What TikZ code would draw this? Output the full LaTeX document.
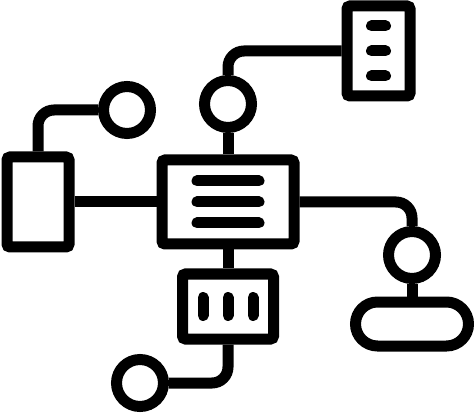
\documentclass[tikz,border=0pt]{standalone}
\usepackage{tikz}
\usetikzlibrary{positioning}
\tikzset{
  box/.style={draw, rectangle, rounded corners=3pt, inner sep=0pt},
  port/.style={draw, circle, minimum size=47pt, inner sep=0pt},
  bar/.style={line cap=round},
}
\begin{document}
\begin{tikzpicture}[x=1pt, y=-1pt, line width=11pt]
      \useasboundingbox (0,0) rectangle (474,414);
      \node[box, minimum width=132pt, minimum height=84pt] (hub) at (228,202) {};
      \node[box, minimum width=62pt, minimum height=90pt] (leftbox) at (38,202) {};
      \node[box, minimum width=63pt, minimum height=90pt] (topbox) at (378.5,51) {};
      \node[box, minimum width=91pt, minimum height=65pt] (lowbox) at (228,306.5) {};
      \node[box, rounded corners=22pt, minimum width=113pt, minimum height=44pt] (pill) at (412,324) {};
      \node[port] (c1) at (127,110) {};
      \node[port] (c2) at (228,104) {};
      \node[port] (c3) at (412,255) {};
      \node[port] (c4) at (140,383) {};
      % links
      \draw (leftbox.east)--(hub.west);
      \draw[rounded corners=16pt] (leftbox.north) |- (c1.west);
      \draw (hub.north)--(c2.south);
      \draw[rounded corners=16pt] (c2.north) |- (topbox.west);
      \draw[rounded corners=16pt] (hub.east) -| (c3.north);
      \draw (c3.south)--(pill.north);
      \draw (hub.south)--(lowbox.north);
      \draw[rounded corners=16pt] (lowbox.south) |- (c4.east);
      % bars
      \draw[bar] ([shift={(-31,-21)}]hub.center)--([shift={(31,-21)}]hub.center);
      \draw[bar] ([shift={(-31,0)}]hub.center)--([shift={(31,0)}]hub.center);
      \draw[bar] ([shift={(-31,21)}]hub.center)--([shift={(31,21)}]hub.center);
      \draw[bar] ([shift={(-7,-25)}]topbox.center)--([shift={(7,-25)}]topbox.center);
      \draw[bar] ([shift={(-7,0)}]topbox.center)--([shift={(7,0)}]topbox.center);
      \draw[bar] ([shift={(-7,25)}]topbox.center)--([shift={(7,25)}]topbox.center);
      \draw[bar] ([shift={(-25,-9)}]lowbox.center)--([shift={(-25,9)}]lowbox.center);
      \draw[bar] ([shift={(0,-9)}]lowbox.center)--([shift={(0,9)}]lowbox.center);
      \draw[bar] ([shift={(25,-9)}]lowbox.center)--([shift={(25,9)}]lowbox.center);
    \end{tikzpicture}
\end{document}
